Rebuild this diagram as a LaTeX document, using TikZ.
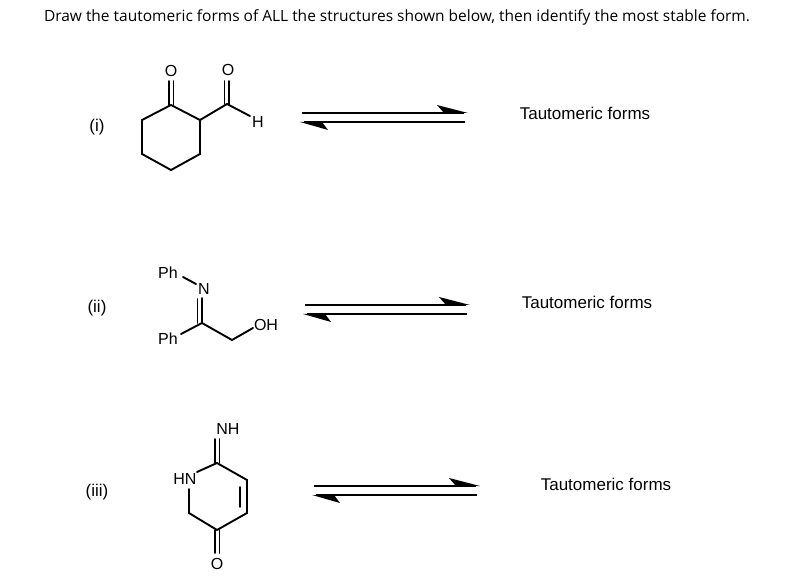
\documentclass[tikz,border=0pt]{standalone}
\usepackage{fontspec}
\setmainfont{Liberation Sans}
\newfontfamily\titlefont{Open Sans}
\begin{document}
\begin{tikzpicture}[x=1pt,y=-1pt,
  bond/.style={line width=1.9pt,line cap=round},
  atom/.style={inner sep=0.5pt,font=\fontsize{16}{16}\selectfont},
  lab/.style={font=\fontsize{17}{17}\selectfont}]
\useasboundingbox[fill=white] (0,0) rectangle (809,577);
\node[font=\titlefont\fontsize{15.5}{15.5}\selectfont] (title) at (397,17) {Draw the tautomeric forms of ALL the structures shown below, then identify the most stable form.};
% equilibrium arrow
\newcommand\eqarrow[4]{% x1 x2 y text-x
 \draw[line width=1.4pt] (#1+2,#3) -- (#2-4,#3);
 \fill (#2,#3) -- (#2-31,#3-8) -- (#2-24,#3) -- cycle;
 \draw[line width=1.4pt] (#1+4,#3+9) -- (#2-3,#3+9);
 \fill (#1,#3+9) -- (#1+28,#3+17) -- (#1+22,#3+9) -- cycle;
}
% (i)
\node[lab] (l1) at (97,127) {(i)};
\draw[bond] (171,105) -- (200,120) -- (200,154) -- (171,170) -- (142,154) -- (142,120) -- cycle;
\draw[bond] (169,105) -- (169,81) (173.5,105) -- (173.5,81);
\node[atom] (o1) at (171,71) {O};
\draw[bond] (200,120) -- (227,104);
\draw[bond] (224.5,104) -- (224.5,81) (229,104) -- (229,81);
\node[atom] (o2) at (228,70) {O};
\draw[bond] (227,104) -- (250,116);
\node[atom] (h1) at (258,122) {H};
\eqarrow{300}{468}{113}{}
\node[lab] (t1) at (585,113) {Tautomeric forms};
% (ii)
\node[lab] (l2) at (97,308) {(ii)};
\node[atom] (ph1) at (168,273) {Ph};
\node[atom] (n2) at (204,289) {N};
\node[atom] (ph2) at (168,339) {Ph};
\node[atom] (oh) at (266,325) {OH};
\draw[bond] (183,277) -- (196,284);
\draw[bond] (202,298) -- (202,323);
\draw[bond] (197.5,299) -- (197.5,323);
\draw[bond] (202,323) -- (181,334);
\draw[bond] (202,323) -- (232,340) -- (253,328);
\eqarrow{303}{470}{305}{}
\node[lab] (t2) at (587,302) {Tautomeric forms};
% (iii)
\node[lab] (l3) at (97,492) {(iii)};
\node[atom] (nh) at (228,429) {NH};
\node[atom] (hn) at (185,479) {HN};
\draw[bond] (215,463) -- (215,439) (219.5,463) -- (219.5,439);
\draw[bond] (197,472) -- (217,463) -- (247,480) -- (247,513) -- (217,530) -- (189,513) -- (189,489);
\draw[bond] (240,487) -- (240,507);
\draw[bond] (215,530) -- (215,553) (219.5,530) -- (219.5,553);
\node[atom] (o3) at (217,564) {O};
\eqarrow{312}{480}{486}{}
\node[lab] (t3) at (606,484) {Tautomeric forms};
\end{tikzpicture}
\end{document}
